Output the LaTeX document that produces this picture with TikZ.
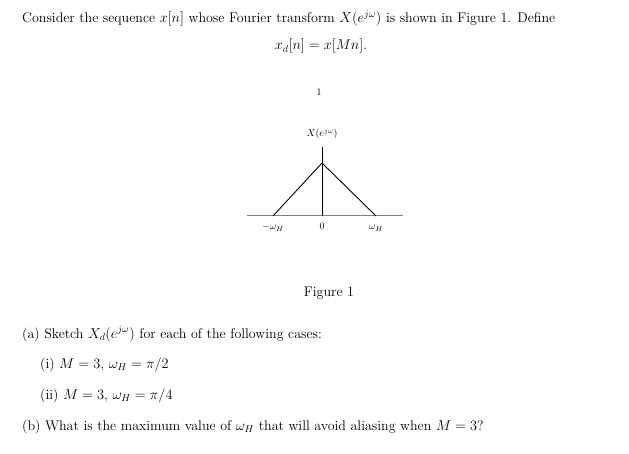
\documentclass[tikz,border=0pt]{standalone}
\begin{document}
\begin{tikzpicture}[x=1pt,y=-1pt,
  txt/.style={anchor=base west,inner sep=0pt,font=\fontsize{14}{17}\selectfont},
  ctxt/.style={anchor=base,inner sep=0pt,font=\fontsize{14}{17}\selectfont},
  small/.style={anchor=base,inner sep=0pt,font=\fontsize{10}{12}\selectfont},
  curve/.style={line width=0.9pt}]
\useasboundingbox (0,0) rectangle (629,454);
\node[txt] (l1) at (22,23) {Consider the sequence $x[n]$ whose Fourier transform $X(e^{j\omega})$ is shown in Figure 1. Define};
\node[ctxt] (l2) at (321,50) {$x_d[n] = x[Mn]$.};
\node[small] (one) at (319,96) {1};
\node[small] (lab) at (322,137) {$X(e^{j\omega})$};
\coordinate (al) at (247,216);
\coordinate (ar) at (403,216);
\coordinate (wl) at (273,216);
\coordinate (wr) at (376,216);
\coordinate (o) at (322,216);
\coordinate (pk) at (322,163);
\coordinate (top) at (322,147);
\draw[line width=1pt,gray] (al) -- (ar);
\draw[curve] (wl) -- (pk) -- (wr);
\draw[curve] (o) -- (top);
\node[small] (tl) at (273,230) {$-\omega_H$};
\node[small] (t0) at (322,230) {0};
\node[small] (tr) at (376,230) {$\omega_H$};
\node[ctxt] (fig) at (329,297) {Figure 1};
\node[txt] (a) at (22,338) {(a) Sketch $X_d(e^{j\omega})$ for each of the following cases:};
\node[txt] (i) at (40,368) {(i) $M=3$, $\omega_H=\pi/2$};
\node[txt] (ii) at (40,399) {(ii) $M=3$, $\omega_H=\pi/4$};
\node[txt] (b) at (22,430) {(b) What is the maximum value of $\omega_H$ that will avoid aliasing when $M=3$?};
\end{tikzpicture}
\end{document}
